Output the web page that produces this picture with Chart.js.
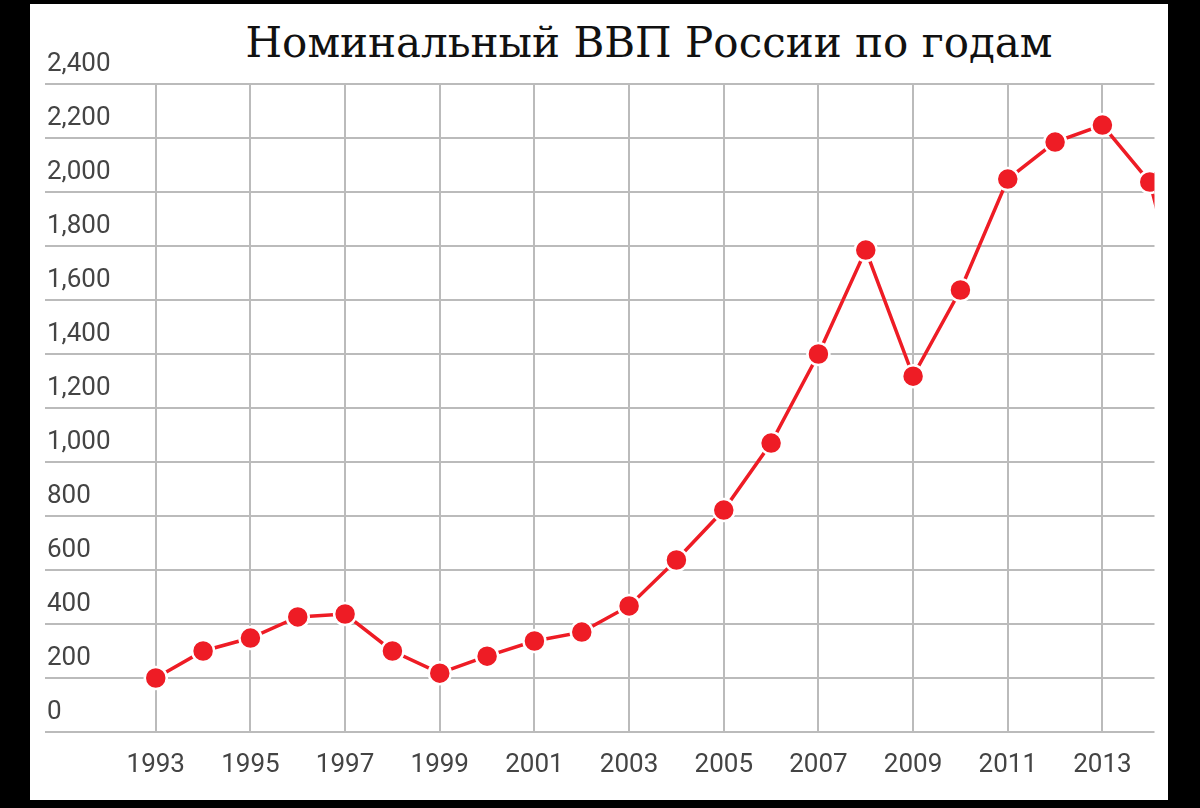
<!DOCTYPE html>
<html>
<head>
<meta charset="utf-8">
<script src="https://cdn.jsdelivr.net/npm/chart.js@4"></script>
<style>
  html, body { margin: 0; padding: 0; background: #000; }
  #panel { position: absolute; left: 30px; top: 4px; width: 1138px; height: 796px; background: #fff; }
  #title { position: absolute; left: 0; width: 1238px; top: 14px; text-align: center;
           font-family: "DejaVu Serif", serif; font-size: 42px; color: #111; }
  #wrap { position: absolute; left: 0; top: 0; width: 1138px; height: 796px; }
</style>
</head>
<body>
<div id="panel">
  <div id="title">Номинальный ВВП России по годам</div>
  <div id="wrap"><canvas id="gdp"></canvas></div>
</div>
<script>
// Nominal GDP of Russia, billions USD
const years = [1993, 1994, 1995, 1996, 1997, 1998, 1999, 2000, 2001, 2002, 2003, 2004,
               2005, 2006, 2007, 2008, 2009, 2010, 2011, 2012, 2013, 2014, 2015];
const gdp = [200, 300, 348, 426, 437, 300, 218, 281, 337, 370, 467, 637,
             822, 1070, 1400, 1785, 1318, 1637, 2048, 2185, 2248, 2037, 1360];
const xTicks = [1993, 1995, 1997, 1999, 2001, 2003, 2005, 2007, 2009, 2011, 2013];

const red = '#ee1c25';
const tickFont = { family: 'Roboto', size: 26 };

new Chart(document.getElementById('gdp'), {
    type: 'line',
    data: {
        datasets: [{
            data: years.map(function(y, i) { return { x: y, y: gdp[i] }; }),
            borderColor: red,
            borderWidth: 3.5,
            pointBackgroundColor: red,
            pointBorderColor: '#fff',
            pointBorderWidth: 2.5,
            pointRadius: 11,
            tension: 0
        }]
    },
    options: {
        responsive: true,
        maintainAspectRatio: false,
        animation: false,
        layout: { padding: { left: 15, top: 80, right: 0, bottom: 0 } },
        plugins: { legend: { display: false }, tooltip: { enabled: false } },
        scales: {
            x: {
                type: 'linear',
                min: 1990.66,
                max: 2014.1,
                afterBuildTicks: function(axis) {
                    axis.ticks = xTicks.map(function(v) { return { value: v }; });
                },
                afterFit: function(axis) { axis.height = 68; },
                grid: { color: '#bbb', lineWidth: 2, drawTicks: false },
                border: { display: false },
                ticks: {
                    font: tickFont, color: '#444', padding: 18,
                    maxRotation: 0, autoSkip: false,
                    callback: function(v) { return String(v); }
                }
            },
            y: {
                min: 0,
                max: 2400,
                afterFit: function(axis) { axis.width = 0; },
                grid: { color: '#bbb', lineWidth: 2, drawTicks: false },
                border: { display: false },
                ticks: {
                    stepSize: 200, mirror: true, padding: 2, labelOffset: -20,
                    font: tickFont, color: '#444'
                }
            }
        }
    }
});
</script>
</body>
</html>
